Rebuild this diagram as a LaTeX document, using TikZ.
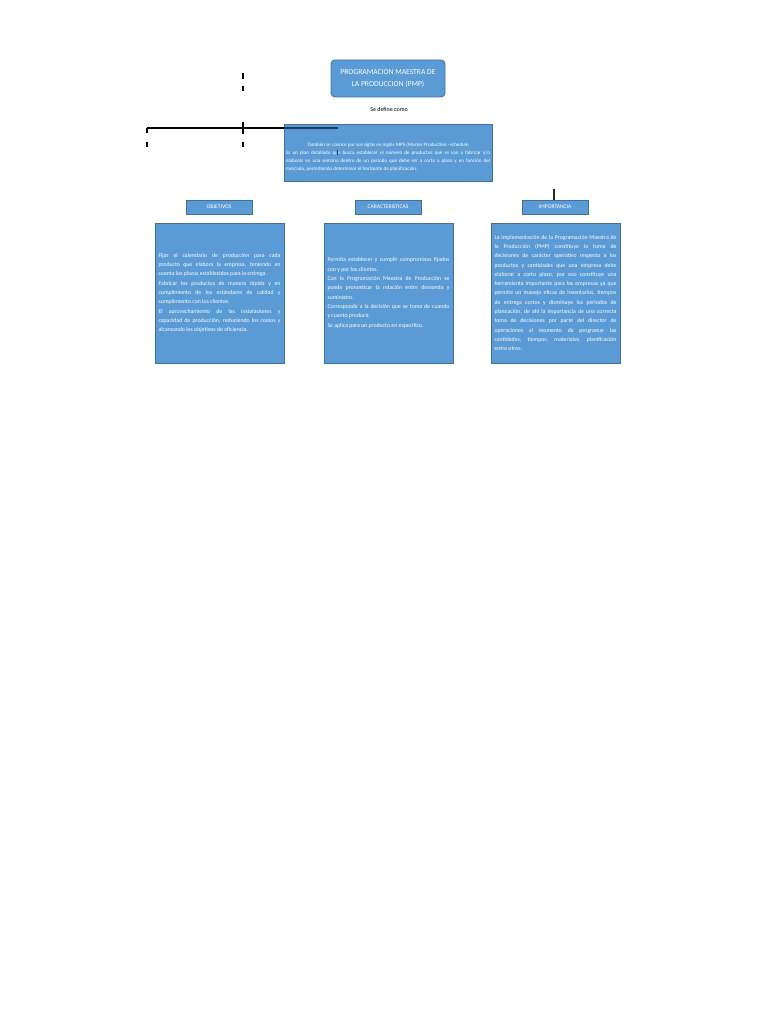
\documentclass[tikz,border=0pt]{standalone}
\usepackage{fontspec}
\setmainfont{Carlito}
\setlength{\parindent}{0pt}
\definecolor{boxfill}{HTML}{5B9BD5}
\definecolor{boxline}{HTML}{41719C}
\definecolor{navy}{HTML}{1F3864}
\tikzset{
  bluebox/.style={draw=boxline, fill=boxfill, line width=0.9pt, text=white, inner sep=0pt},
  labelbox/.style={bluebox, minimum width=66pt, minimum height=14pt, font=\fontsize{5.6}{6.5}\selectfont},
  bigbox/.style={bluebox, minimum width=129pt, minimum height=140pt, text width=122pt, align=justify, font=\fontsize{5.8}{9.3}\selectfont},
  tick/.style={line width=1.2pt, black}
}
\begin{document}
\begin{tikzpicture}[x=1pt,y=-1pt]
\useasboundingbox[fill=white] (0,0) rectangle (768,1024);

% title
\node[bluebox, rounded corners=4pt, minimum width=114pt, minimum height=37pt, align=center,
      font=\fontsize{7.6}{11.5}\selectfont] (title) at (388,78.5)
  {PROGRAMACION MAESTRA DE\\LA PRODUCCION (PMP)};
\node[font=\fontsize{6}{7}\selectfont, inner sep=0pt] (define) at (389,109) {Se define como};

% main definition box
\node[bluebox, minimum width=208pt, minimum height=57pt, text width=204pt, align=justify,
      font=\fontsize{5.1}{8}\selectfont] (main) at (388,152.5)
  {\vskip 5pt\hbox to \hsize{\hfil También se conoce por sus siglas en inglés MPS (Master Production –schedule\hfil}
   Es un plan detallado que busca establecer el número de productos que se van a fabricar y/o\linebreak
   elaborar en una semana dentro de un periodo que debe ser a corto a plazo y en función del\linebreak
   mercado, permitiendo determinar el horizonte de planificación.};

% stray lines
\coordinate (hl) at (147,128);
\coordinate (hm) at (284,128);
\coordinate (hr) at (338,128);
\draw[line width=1.4pt, black] (hl) -- (hm);
\draw[line width=1.4pt, navy] (hm) -- (hr);
\draw[tick] (hl) -- ++(0,5);
\draw[tick] (147,142) -- (147,147);
\draw[tick] (243,73) -- (243,79);
\draw[tick] (243,86) -- (243,91);
\draw[tick] (243,122) -- (243,134);
\draw[tick] (243,142) -- (243,147);
\draw[line width=1pt, navy] (337,150) -- (337,155);

% labels
\node[labelbox] (objlab) at (219,207) {OBJETIVOS};
\node[labelbox] (carlab) at (388,207) {CARACTERISTICAS};
\node[labelbox] (implab) at (555,207) {IMPORTANCIA};
\coordinate (imptop) at (554,189.5);
\draw[line width=1.2pt, black!85] (imptop) -- (imptop |- implab.north);

% big boxes
\node[bigbox] (obj) at (219.5,293)
  {Fijar el calendario de producción para cada\linebreak
   producto que elabora la empresa, teniendo en\linebreak
   cuenta los plazos establecidos para la entrega.\par
   Fabricar los productos de manera rápida y en\linebreak
   cumplimiento de los estándares de calidad y\linebreak
   cumplimiento con los clientes.\par
   El aprovechamiento de las instalaciones y\linebreak
   capacidad de producción, reduciendo los costos y\linebreak
   alcanzando los objetivos de eficiencia.};

\node[bigbox] (car) at (388.5,293)
  {Permita establecer y cumplir compromisos fijados\linebreak
   con y por los clientes.\par
   Con la Programación Maestra de Producción se\linebreak
   puede pronosticar la relación entre demanda y\linebreak
   suministro.\par
   Corresponde a la decisión que se toma de cuando\linebreak
   y cuanto producir.\par
   Se aplica para un producto en específico.};

\node[bigbox] (imp) at (555.5,293)
  {La implementación de la Programación Maestra de\linebreak
   la Producción (PMP) constituye la toma de\linebreak
   decisiones de carácter operativo respecto a los\linebreak
   productos y cantidades que una empresa debe\linebreak
   elaborar a corto plazo, por eso constituye una\linebreak
   herramienta importante para las empresas ya que\linebreak
   permite un manejo eficaz de inventarios, tiempos\linebreak
   de entrega cortos y disminuye los periodos de\linebreak
   planeación, de ahí la importancia de una correcta\linebreak
   toma de decisiones por parte del director de\linebreak
   operaciones al momento de programar las\linebreak
   cantidades, tiempos, materiales, planificación\linebreak
   entre otros.};
\end{tikzpicture}
\end{document}
